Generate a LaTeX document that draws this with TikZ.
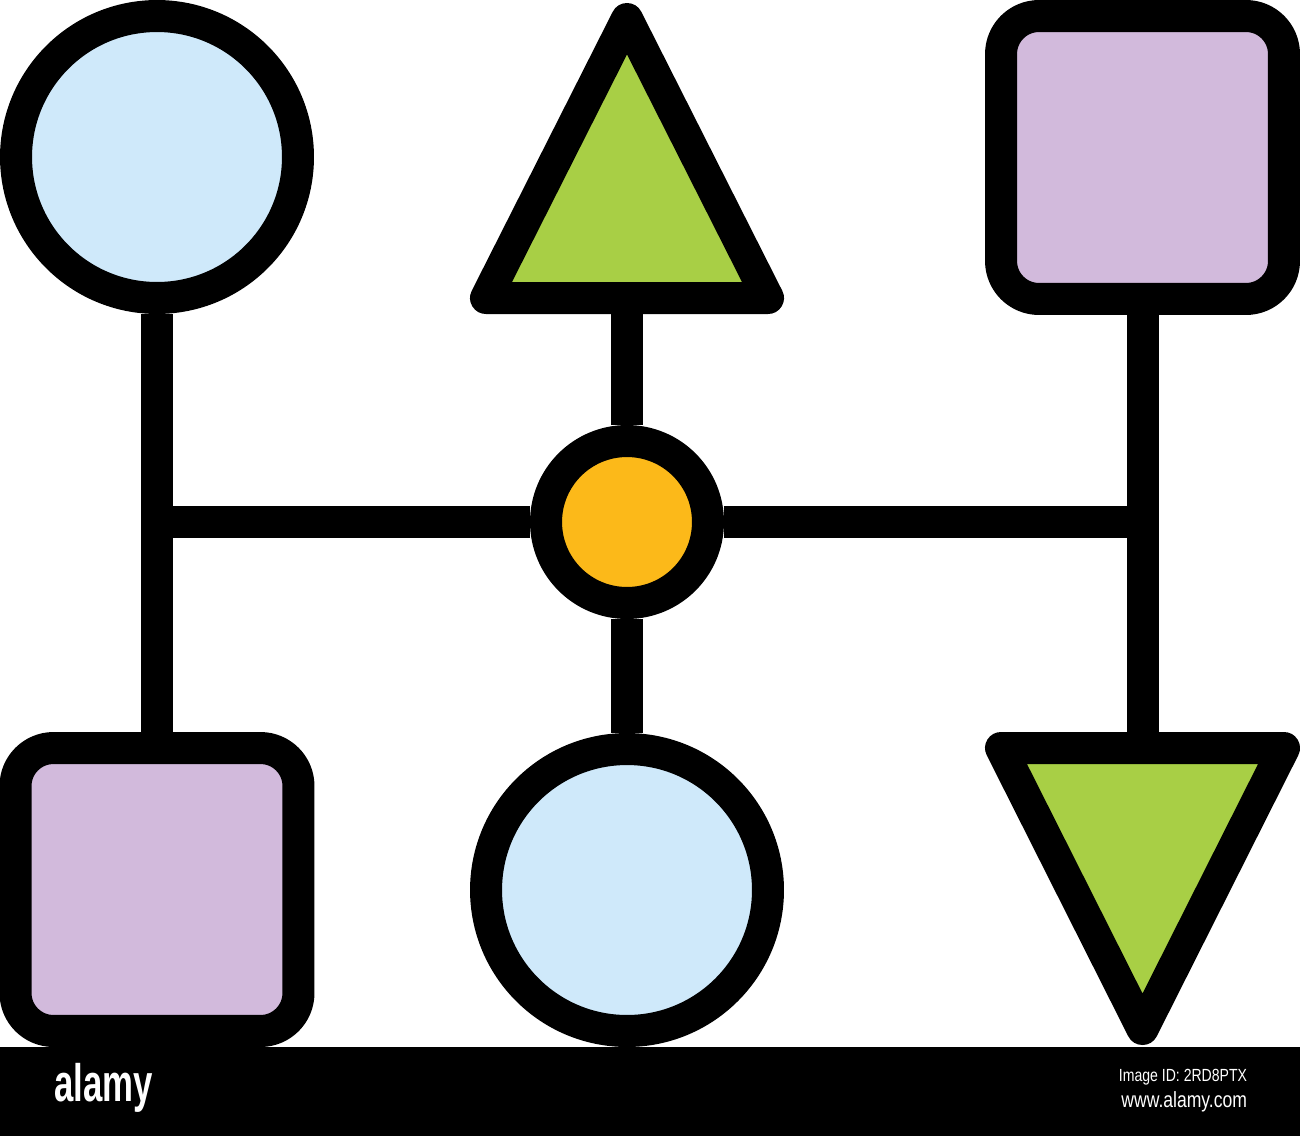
\documentclass[tikz,border=0pt]{standalone}
\usepackage{fontspec}
\setsansfont{Liberation Sans}
\definecolor{skyfill}{RGB}{207,233,250}
\definecolor{leaffill}{RGB}{168,207,69}
\definecolor{lilacfill}{RGB}{210,186,220}
\definecolor{amberfill}{RGB}{252,185,25}
\tikzset{
    outline/.style={draw=black, line width=0.64cm, line join=round},
    bigdot/.style={outline, circle, inner sep=0pt, minimum size=5.64cm, fill=skyfill},
    hubdot/.style={outline, circle, inner sep=0pt, minimum size=3.24cm, fill=amberfill},
    tile/.style={outline, rectangle, rounded corners=0.76cm, inner sep=0pt, minimum size=5.66cm, fill=lilacfill},
    wire/.style={draw=black, line width=0.64cm},
}
\begin{document}
\begin{tikzpicture}[x=0.02cm, y=-0.02cm]
                \useasboundingbox (0,0) rectangle (1300,1136);
                % shapes
                \node[bigdot] (topcircle) at (157,157) {};
                \node[tile] (topsquare) at (1142.5,157.5) {};
                \node[hubdot] (hub) at (627,522) {};
                \node[tile] (lowsquare) at (157,889.5) {};
                \node[bigdot] (lowcircle) at (627,890) {};
                \coordinate (upbase) at (627,298);
                \coordinate (downtop) at (1142.5,748);
                % links
                \draw[wire] (topcircle.south) -- (lowsquare.north);
                \draw[wire] (topsquare.south) -- (downtop);
                \draw[wire] (hub.north) -- (upbase);
                \draw[wire] (hub.south) -- (lowcircle.north);
                \draw[wire] (hub.west) -- (hub -| topcircle);
                \draw[wire] (hub.east) -- (hub -| topsquare);
                % triangles
                \draw[outline, fill=leaffill] (627,19) -- (768,298) -- (486,298) -- cycle;
                \draw[outline, fill=leaffill] (1001,748) -- (1284,748) -- (1142.5,1029) -- cycle;
                % bar
                \fill[black] (0,1047) rectangle (1300,1136);
                \node[white, font=\sffamily\bfseries\fontsize{30}{30}\selectfont, xscale=0.66, transform shape, anchor=west] (brand) at (50,1088) {alamy};
                \node[white, font=\sffamily\fontsize{10}{10}\selectfont, xscale=0.8, transform shape, anchor=east] (imgid) at (1252,1077) {Image ID: 2RD8PTX};
                \node[white, font=\sffamily\fontsize{12.5}{12.5}\selectfont, xscale=0.8, transform shape, anchor=east] (site) at (1252,1102) {www.alamy.com};
            \end{tikzpicture}
\end{document}
